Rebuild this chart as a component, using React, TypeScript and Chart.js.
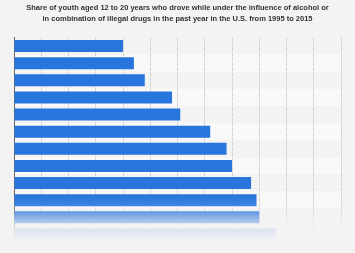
import React, { useEffect, useRef } from "react";
import { Chart, registerables } from "chart.js";

Chart.register(...registerables);

const categories = ["2015", "2014", "2013", "2012", "2011", "2010", "2009", "2008", "2007", "2006", "2005", "2004"];
const shares = [4.0, 4.4, 4.8, 5.8, 6.1, 7.2, 7.8, 8.0, 8.7, 8.9, 9.0, 9.6];
const titleLines = [
  "Share of youth aged 12 to 20 years who drove while under the influence of alcohol or",
  "in combination of illegal drugs in the past year in the U.S. from 1995 to 2015",
];

const BG = "#f3f3f3";

const stripes = {
  id: "stripes",
  beforeDraw(chart: any) {
    const { ctx, chartArea, scales } = chart;
    const y = scales.y;
    ctx.save();
    ctx.fillStyle = BG;
    ctx.fillRect(0, 0, chart.width, chart.height);
    const n = categories.length;
    const band = (chartArea.bottom - chartArea.top) / n;
    ctx.fillStyle = "#f9f9f9";
    for (let i = 0; i < n; i++) {
      if (i % 2 === 1) {
        const c = y.getPixelForValue(i);
        ctx.fillRect(chartArea.left, c - band / 2, chartArea.right - chartArea.left, band);
      }
    }
    ctx.restore();
  },
};

const fade = {
  id: "fade",
  afterDraw(chart: any) {
    const { ctx } = chart;
    const top = 196;
    const bottom = 242;
    const h = bottom - top;
    const at = (y: number) => (y - top) / h;
    ctx.save();
    const g = ctx.createLinearGradient(0, top, 0, bottom);
    g.addColorStop(0, "rgba(243,243,243,0)");
    g.addColorStop(at(205), "rgba(243,243,243,0.1)");
    g.addColorStop(at(211), "rgba(243,243,243,0.25)");
    g.addColorStop(at(222), "rgba(243,243,243,0.65)");
    g.addColorStop(at(228), "rgba(243,243,243,0.86)");
    g.addColorStop(at(236), "rgba(243,243,243,0.95)");
    g.addColorStop(1, "rgba(243,243,243,1)");
    ctx.fillStyle = g;
    ctx.fillRect(0, top, chart.width, h);
    ctx.fillStyle = BG;
    ctx.fillRect(0, bottom, chart.width, chart.height - bottom);
    ctx.restore();
  },
};

export default function App() {
  const ref = useRef<HTMLCanvasElement>(null);
  useEffect(() => {
    document.body.style.margin = "0";
    const chart = new Chart(ref.current!, {
      type: "bar",
      data: {
        labels: categories,
        datasets: [
          {
            data: shares,
            backgroundColor: "#2876dd",
            borderWidth: 0,
            barPercentage: 0.7,
            categoryPercentage: 1,
          },
        ],
      },
      options: {
        indexAxis: "y",
        animation: false,
        responsive: false,
        layout: { padding: { left: 14, right: 14, bottom: 10, top: 0 } },
        plugins: {
          legend: { display: false },
          tooltip: { enabled: false },
          title: {
            display: true,
            text: titleLines,
            color: "#333333",
            font: { family: "Liberation Sans, Arial, sans-serif", size: 7.5, weight: "bold", lineHeight: 1.53 },
            padding: { top: 2, bottom: 12.5 },
          },
        },
        scales: {
          x: {
            min: 0,
            max: 12,
            ticks: { display: false, stepSize: 1 },
            grid: { color: "#d2d2d2", drawTicks: false, lineWidth: 1 },
            border: { display: false, dash: [4, 1] },
          },
          y: {
            ticks: { display: false },
            grid: { display: false, drawTicks: false },
            border: { display: true, color: "#666666", width: 1 },
          },
        },
      },
      plugins: [stripes, fade],
    });
    return () => chart.destroy();
  }, []);
  return (
    <div style={{ width: 355, height: 253, background: BG }}>
      <canvas ref={ref} width={355} height={253} />
    </div>
  );
}
